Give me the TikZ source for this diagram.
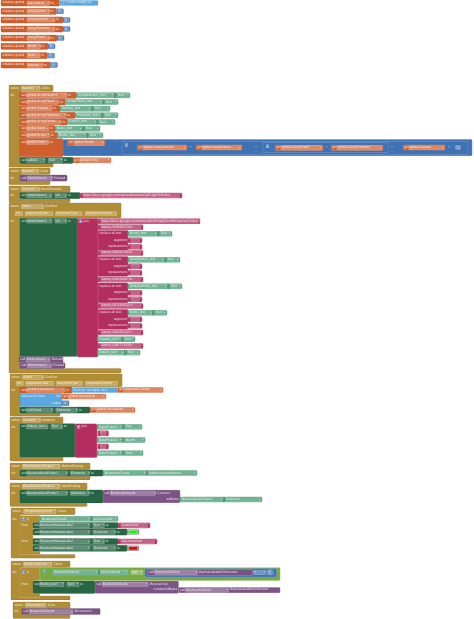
\documentclass[tikz,border=0pt]{standalone}
\usepackage{fontspec}
\setmainfont{Liberation Sans}
\newfontfamily\djv{DejaVu Sans}
\definecolor{vor}{HTML}{D05F2D}
\definecolor{gld}{HTML}{B18E35}
\definecolor{dgr}{HTML}{266643}
\definecolor{lgr}{HTML}{439970}
\definecolor{mag}{HTML}{B32D5E}
\definecolor{lbl}{HTML}{5AA8DD}
\definecolor{mbl}{HTML}{3F71B5}
\definecolor{prp}{HTML}{7C5385}
\definecolor{lgc}{HTML}{77AB41}
\definecolor{gry}{HTML}{8A8A8A}
\definecolor{swg}{HTML}{00FF00}
\definecolor{swr}{HTML}{FF0000}
\newcounter{nn}
\newcommand\fs{\fontsize{3.4}{3.6}\selectfont}
\newcommand\dn{{\djv\fontsize{2}{2}\selectfont ▾}}
\tikzset{
  blkst/.style={rounded corners=0.8pt,line width=0.25pt},
  fldst/.style={rounded corners=0.6pt,line width=0.2pt},
  txt/.style={anchor=west,inner sep=0pt,text=white,font=\fs},
}
\newcommand\bk[5]{\filldraw[blkst,fill=#1,draw=#1!75!black] (#2,#3) rectangle (#4,#5);}
\newcommand\nb[5]{\filldraw[blkst,fill=#1,draw=white!45!#1] (#2,#3) rectangle (#4,#5);}
\newcommand\cblk[8]{\filldraw[blkst,fill=gld,draw=gld!75!black] (#1,#2) -- (#3,#2) -- (#3,#4) -- (#5,#4) -- (#5,#6) -- (#7,#6) -- (#7,#8) -- (#1,#8) -- cycle;}
\newcommand\ifb[4]{\filldraw[blkst,fill=gld,draw=white!45!gld] (20,#1) -- (40,#1) -- (40,#2) -- (33,#2) -- (33,#3) -- (40,#3) -- (40,#4) -- (20,#4) -- cycle;}
\newcommand\tx[3]{\stepcounter{nn}\node[txt] (n\thenn) at (#1,#2) {#3};}
\newcommand\rtx[3]{\stepcounter{nn}\node[txt,anchor=east] (n\thenn) at (#1,#2) {#3};}
\newcommand\ff[5]{\filldraw[fldst,fill=#1!75!white,draw=white!60!#1] (#2,#4-2.15) rectangle (#3,#4+2.15);\tx{#2+0.7}{#4}{#5}}
\newcommand\fd[5]{\ff{#1}{#2}{#3}{#4}{#5}\rtx{#3-0.5}{#4}{\dn}}
\newcommand\gear[2]{\filldraw[fill=mbl!85!white,draw=white!70!mbl,line width=0.2pt,rounded corners=0.3pt] (#1-1.5,#2-1.5) rectangle (#1+1.5,#2+1.5);\fill[white] (#1,#2) circle (0.6);}
\newcommand\ogt[5]{\nb{vor}{#1}{#3-2.6}{#2}{#3+2.6}\tx{#1+1.1}{#3}{get}\fd{vor}{#4}{#2-1}{#3}{#5}}
\newcommand\ggt[6]{\nb{lgr}{#1}{#3-2.6}{#2}{#3+2.6}\fd{lgr}{#1+1}{#4}{#3}{#5}\tx{#4+0.5}{#3}{.}\fd{lgr}{#4+2.6}{#2-1}{#3}{#6}}
\newcommand\tb[4]{\nb{mag}{#1}{#3-2.6}{#2}{#3+2.6}\tx{#1+0.6}{#3}{“}\ff{mag}{#1+2.6}{#2-2.6}{#3}{#4}\rtx{#2-0.6}{#3}{”}}
\newcommand\num[3]{\nb{mbl}{#1}{#2-2.6}{#1+7}{#2+2.6}\ff{mbl}{#1+1.3}{#1+5.7}{#2}{#3}}
\newcommand\sset[7]{\tx{#1+1.2}{#2}{set}\fd{dgr}{#1+6.5}{#3}{#2}{#6}\tx{#3+0.5}{#2}{.}\fd{dgr}{#4}{#5}{#2}{#7}\tx{#5+1.2}{#2}{to}}
\newcommand\vset[4]{\tx{#1+1.2}{#2}{set}\fd{vor}{#1+6.5}{#3}{#2}{#4}\tx{#3+1.2}{#2}{to}}
\newcommand\whn[6]{\tx{#1+1.5}{#2}{when}\fd{gld}{#3}{#4}{#2}{#5}\tx{#4+0.8}{#2}{#6}}
\newcommand\callb[5]{\tx{#1+1.2}{#2}{call}\fd{prp}{#1+7}{#3}{#2}{#4}\tx{#3+0.8}{#2}{#5}}
\newcommand\ini[4]{\bk{vor}{1}{#1-3}{#4}{#1+3}\tx{2.2}{#1}{initialize global}\fd{vor}{27}{#2}{#1}{#3}\tx{#2+1}{#1}{to}}
\newcommand\rep[5]{\nb{mag}{98}{#1}{128}{#1+20}\tx{99.4}{#2}{replace all text}\ggt{128}{#3}{#2}{#4}{#5}{Text}\rtx{127}{#2+6.5}{segment}\tb{128}{142}{#2+6.5}{.}\rtx{127}{#2+13}{replacement}\tb{128}{142}{#2+13}{,}}
\begin{document}
\begin{tikzpicture}[x=1pt,y=-1pt]
\useasboundingbox (0,0) rectangle (474,619);
\fill[white] (0,0) rectangle (474,619);
% ---------- globals
\ini{3}{50}{harvestList}{59.5}
\nb{lbl}{59.5}{0.4}{98}{5.6}\gear{63.3}{3}\tx{66.5}{3}{create empty list}
\ini{11.3}{49.5}{ArrayKarton}{56.5}\num{56.5}{11.3}{0}
\ini{19.9}{55}{ArrayKarton2}{63}\num{63}{19.9}{0}
\ini{29}{55}{ArrayPlastmas}{63}\num{63}{29}{0}
\ini{38}{49.5}{ArrayPlast2}{57}\num{57}{38}{0}
\ini{46.3}{40.5}{Brutto}{48}\num{48}{46.3}{0}
\ini{55.6}{40}{Netto}{47.5}\num{47.5}{55.6}{0}
\ini{65}{43}{Swasta}{50.5}\num{50.5}{65}{0}
% ---------- event 1
\cblk{9}{85}{53}{91.3}{20}{163.3}{53}{167}
\whn{9}{88.2}{21.5}{40}{Button1}{.Click}
\tx{10.5}{95.3}{do}
\bk{vor}{20}{92.3}{76.5}{98.3}\vset{20}{95.3}{67}{global ArrayKarton2}\ggt{76.5}{130}{95.3}{114}{ArrayKarton2\_text}{Text}
\bk{vor}{20}{99}{65.5}{105}\vset{20}{102}{58.5}{global ArrayPlast2}\ggt{65.5}{118}{102}{102}{ArrayPlast2\_text}{Text}
\bk{vor}{20}{105.7}{60}{111.7}\vset{20}{108.7}{52}{global Swasta}\ggt{60}{110}{108.7}{91}{Swasta\_text}{Text}
\bk{vor}{20}{112.3}{75}{118.3}\vset{20}{115.3}{66}{global ArrayPlastmas}\ggt{75}{118}{115.3}{101}{Plastmas\_text}{Text}
\bk{vor}{20}{119}{67.5}{125}\vset{20}{122}{61}{global ArrayKarton}\ggt{67.5}{115}{122}{96}{Karton\_text}{Text}
\bk{vor}{20}{125.7}{55}{131.7}\vset{20}{128.7}{48.5}{global Netto}\ggt{55}{100}{128.7}{82}{Netto\_text}{Text}
\bk{vor}{20}{132.3}{57}{138.3}\vset{20}{135.3}{49.5}{global Brutto}\ggt{57}{103}{135.3}{86}{Brutto\_text}{Text}
\bk{vor}{20}{138.8}{63}{156.5}\vset{20}{142.3}{48.5}{global Netto}
\nb{mbl}{63}{139.3}{472}{155.8}
\ogt{67.5}{105}{143}{74}{global Brutto}
\tx{114.5}{143}{−}
\nb{mbl}{122}{141.3}{468}{154.3}
\gear{126.5}{145}
\ogt{137}{187}{147.5}{143}{global ArrayKarton2}
\tx{189.5}{147.5}{+}
\ogt{196}{242}{147.5}{202}{global ArrayKarton}
\tx{255}{147.5}{+}
\nb{mbl}{263}{142.8}{388}{152.8}
\gear{267.5}{146.3}
\ogt{275}{323}{147.8}{281}{global ArrayPlast2}
\tx{325.3}{147.8}{+}
\ogt{331}{383}{147.8}{337}{global ArrayPlastmas}
\tx{391}{147.5}{+}
\ogt{403}{445}{147.5}{409}{global Swasta}
\tx{448}{147.5}{+}
\filldraw[fldst,fill=white!35!mbl,draw=mbl!70!black] (455,145) rectangle (461,150);
\bk{dgr}{20}{157.3}{73}{163.3}\sset{20}{160.3}{45}{48}{62.5}{Label1}{Text}\ogt{73}{111}{160.3}{79.5}{global Netto}
% ---------- event 2
\cblk{9}{168}{50}{174.3}{20}{181.3}{50}{184.5}
\whn{9}{171.2}{21.5}{39}{Button2}{.Click}
\tx{10.5}{178}{do}
\bk{prp}{20}{175}{67}{181}\callb{20}{178}{52.5}{WebViewer1}{.Reload}
% ---------- event 3
\cblk{9}{186}{70}{192.3}{20}{198.8}{70}{202.5}
\whn{9}{189.2}{21.5}{39.5}{Screen1}{.BackPressed}
\tx{10.5}{195.5}{do}
\bk{dgr}{20}{192.5}{80}{198.5}\sset{20}{195.5}{52}{54.6}{66.5}{WebViewer1}{Url}
\tb{80}{182}{195.5}{https://docs.google.com/spreadsheets/d/1qFUgH7kPz0Ie...}
% ---------- event 4
\cblk{9}{203}{121}{218}{20}{368.5}{121}{373}
\whn{9}{206.7}{21.5}{43.5}{Web1}{.GotText}
\ff{gld}{15}{22.5}{213.7}{url}\ff{gld}{25}{53}{213.7}{responseCode}\ff{gld}{55.5}{82}{213.7}{responseType}\ff{gld}{85}{116.5}{213.7}{responseContent}
\tx{10.5}{221.2}{do}
\bk{dgr}{20}{218.3}{77}{356.3}\sset{20}{221.2}{52}{54.6}{66.5}{WebViewer1}{Url}
\nb{mag}{77}{218.3}{98}{357}\gear{80.5}{221.2}\tx{83.5}{221.2}{join}
\tb{98}{200}{221.2}{https://docs.google.com/forms/d/e/1FAIpQ/formResponse?entry.1=}
\tb{98}{143}{227.2}{\&entry.1558254734=}
\rep{230.3}{233.8}{172}{157}{Brutto\_text}
\tb{98}{143}{253}{\&entry.2054327814=}
\rep{256.3}{259.8}{180}{164}{ArrayKarton\_text}
\tb{98}{143}{279.5}{\&entry.1318316874=}
\rep{282.8}{286.3}{182}{167}{ArrayKarton2\_text}
\tb{98}{143}{306}{\&entry.1671435521=}
\rep{309.3}{312.8}{167}{152}{Netto\_text}
\tb{98}{143}{332.5}{\&entry.1993251107=}
\ggt{97.5}{135}{339.2}{121}{Swasta\_text}{Text}
\tb{98}{143}{345.9}{\&entry.1085773430=}
\ggt{97.5}{140}{352.6}{124}{Datum\_text}{Text}
\bk{prp}{19}{356.8}{63}{362.2}\callb{19}{359.5}{50}{WebViewer1}{.Reload}
\bk{prp}{20}{362.7}{65}{368.3}\callb{20}{365.5}{51.5}{WebViewer2}{.Reload}
% ---------- event 5
\cblk{10}{374}{122}{386.5}{20}{412}{60}{416}
\whn{10}{377.3}{22.5}{43.5}{Web2}{.GotText}
\ff{gld}{16}{23.5}{383.3}{url}\ff{gld}{25.5}{53.5}{383.3}{responseCode}\ff{gld}{56}{82.5}{383.3}{responseType}\ff{gld}{85.5}{117.5}{383.3}{responseContent}
\tx{11.5}{390}{do}
\bk{vor}{20}{387}{72}{393}\vset{20}{390}{64.5}{global harvestList}
\nb{lbl}{72}{387.4}{118}{392.6}\tx{73.2}{390}{list from csv table\ \ text}
\ogt{117.5}{163}{390}{123.5}{responseContent}
\bk{lbl}{20}{393.5}{62}{406.3}\tx{21.2}{396.5}{remove list item}\rtx{61}{396.5}{list}\rtx{61}{403.2}{index}
\ogt{62}{106}{396.5}{68}{global harvestList}
\num{62}{403.2}{1}
\bk{dgr}{20}{407}{90}{413}\sset{20}{410}{53}{55.6}{77.5}{ListView1}{Elements}\ogt{90}{135}{410}{96}{global harvestList}
% ---------- event 6
\cblk{10}{417}{63}{423.3}{20}{457.3}{63}{461}
\whn{10}{420.2}{22.5}{40.5}{Screen1}{.Initialize}
\tx{11.5}{427}{do}
\bk{dgr}{20}{423.8}{75}{457}\sset{20}{426.8}{48}{50.6}{62.5}{Datum\_text}{Text}
\nb{mag}{75}{423.8}{97}{457.5}\gear{78.5}{426.8}\tx{81.5}{426.8}{join}
\ggt{97}{142}{426.8}{122}{DatePicker1}{Day}
\tb{97.5}{108.5}{433.3}{/}
\ggt{97}{145}{439.9}{122}{DatePicker1}{Month}
\tb{97.5}{108.5}{446.5}{/}
\ggt{97}{143}{453.1}{122}{DatePicker1}{Year}
% ---------- event 7
\cblk{10}{463}{90}{469.5}{20}{476.3}{90}{479.8}
\whn{10}{466.3}{22.5}{60}{BluetoothListPicker1}{.BeforePicking}
\tx{11.5}{473}{do}
\bk{dgr}{20}{470}{103}{476}\sset{20}{473}{67.5}{70.1}{89.5}{BluetoothListPicker1}{Elements}
\ggt{103}{197}{473}{145.5}{BluetoothClient1}{AddressesAndNames}
% ---------- event 8
\cblk{10}{483}{87}{489.5}{20}{502.8}{87}{506.3}
\whn{10}{486.3}{22.5}{60}{BluetoothListPicker1}{.AfterPicking}
\tx{11.5}{493}{do}
\bk{dgr}{20}{490}{103}{502.8}\sset{20}{493}{67.5}{70.1}{89.5}{BluetoothListPicker1}{Selection}
\nb{prp}{103}{490}{180}{502.8}\callb{103}{493}{155.5}{BluetoothClient1}{.Connect}
\rtx{179}{499.5}{address}
\ggt{180}{262}{499.5}{222.5}{BluetoothListPicker1}{Selection}
% ---------- event 9
\cblk{11}{508}{75}{514.5}{20}{554.5}{75}{558}
\whn{11}{511.3}{23.5}{56}{TemperatureClock}{.Timer}
\tx{12.5}{519}{do}
\ifb{515.5}{522.3}{551.5}{554.8}
\gear{23.5}{518.8}\tx{26.8}{518.8}{if}
\ggt{40}{118}{518.8}{90}{BluetoothClient1}{IsConnected}
\tx{21.5}{525.3}{then}
\bk{dgr}{33}{522.5}{118}{528.3}\sset{33}{525.4}{90}{92.6}{104.5}{BluetoothStatusLabel}{Text}
\tb{118}{150}{525.4}{Connected}
\bk{dgr}{33}{529}{127}{535}\sset{33}{532}{90}{92.6}{115.5}{BluetoothStatusLabel}{TextColor}
\nb{gry}{127}{529.4}{139}{534.6}\filldraw[fldst,fill=swg,draw=white] (128.5,530.3) rectangle (137.5,533.7);
\tx{21.5}{541.5}{else}
\bk{dgr}{33}{538.5}{118}{544.5}\sset{33}{541.5}{90}{92.6}{104.5}{BluetoothStatusLabel}{Text}
\tb{118}{157}{541.5}{Disconnected}
\bk{dgr}{33}{545.3}{127}{551.2}\sset{33}{548.2}{90}{92.6}{115.5}{BluetoothStatusLabel}{TextColor}
\nb{gry}{127}{545.6}{139}{550.8}\filldraw[fldst,fill=swr,draw=white] (128.5,546.5) rectangle (137.5,549.9);
% ---------- event 10
\cblk{11}{561}{70}{567.5}{20}{596}{70}{599.8}
\whn{11}{564.3}{23.5}{52}{BluetoothClock}{.Timer}
\tx{12.5}{572}{do}
\ifb{567.8}{580.7}{593.6}{597.4}
\gear{23.5}{572.2}\tx{26.8}{572.2}{if}
\nb{lgc}{40}{567.5}{280}{580.5}
\gear{44.5}{571}
\ggt{52.5}{128.5}{572.3}{97.5}{BluetoothClient1}{IsConnected}
\fd{lgc}{131}{143}{572.3}{and}
\nb{mbl}{145}{568.6}{276.5}{577}
\nb{prp}{147.5}{569.5}{252.5}{575.3}\callb{147.5}{572.4}{197.5}{BluetoothClient1}{.BytesAvailableToReceive}
\fd{mbl}{253.5}{265.5}{572.4}{>}
\num{266.5}{572.4}{0}
\tx{21.5}{584.5}{then}
\bk{dgr}{33}{581}{95}{593.3}\sset{33}{584.3}{64}{66.6}{79}{Brutto\_text}{Text}
\nb{prp}{95}{581}{178.5}{593.3}\callb{95}{584.3}{148}{BluetoothClient1}{.ReceiveText}
\rtx{177.5}{590}{numberOfBytes}
\nb{prp}{178.5}{587.3}{280}{592.8}\callb{178.5}{590}{228.5}{BluetoothClient1}{.BytesAvailableToReceive}
% ---------- event 11
\cblk{13}{602}{70}{608.3}{22}{614.5}{70}{618.3}
\whn{13}{605.2}{25.5}{46}{Disconnect}{.Click}
\tx{14.5}{611.5}{do}
\bk{prp}{22}{608.6}{100}{614.4}\callb{22}{611.5}{73}{BluetoothClient1}{.Disconnect}
\end{tikzpicture}
\end{document}
